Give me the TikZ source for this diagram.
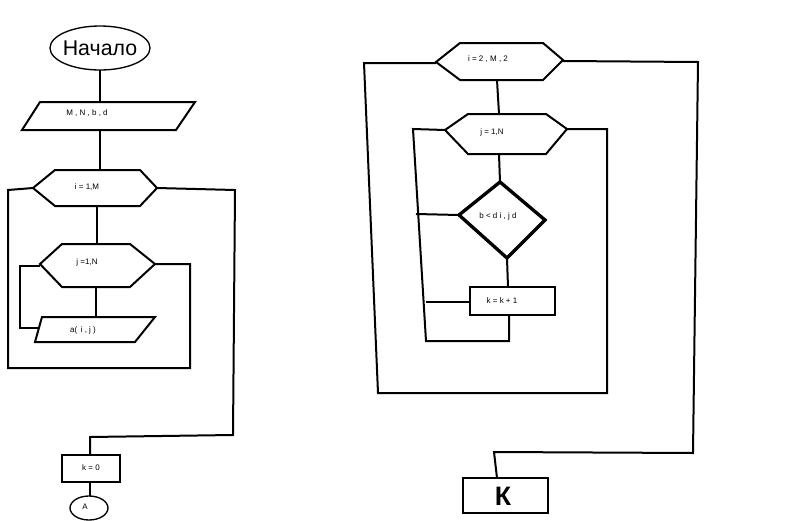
\documentclass[tikz,border=0pt]{standalone}
\usepackage{fontspec}
\setmainfont{Liberation Sans}
\begin{document}
\begin{tikzpicture}[x=0.75pt,y=-0.75pt,line width=1.5pt,line join=miter,
  lbl/.style={font=\fontsize{6}{7}\selectfont,inner sep=0pt},
  shp/.style={draw,fill=white}]
\useasboundingbox (0,0) rectangle (800,521);
% ---------- left ----------
\draw[line width=1pt] (100,48) ellipse (50 and 22);
\node[inner sep=0,font=\fontsize{16}{18}\selectfont] (start) at (100,48) {Начало};
\draw[shp] (40,102)--(195,102)--(176,130)--(22,130)--cycle;
\node[lbl] (in1) at (87,113) {M , N , b , d};
\draw (100,70)--(100,102);
\draw (100,130)--(100,170);
% hexagon i
\draw[shp] (33,188)--(55,170)--(140,170)--(157,188)--(140,206)--(55,206)--cycle;
\node[lbl] (h1) at (87,187) {i = 1,M};
\draw (33,188)--(8,190)--(8,368)--(190,368)--(190,264)--(155,264);
\draw (157,188)--(235,190)--(233,435)--(90,437)--(90,455);
\draw (97,206)--(97,244);
% hexagon j
\draw[shp] (40,264)--(62,244)--(130,244)--(155,264)--(130,287)--(62,287)--cycle;
\node[lbl] (h2) at (87,262) {j =1,N};
\draw (40,266)--(20,266)--(20,328)--(38,328);
\draw (96,287)--(96,317);
\draw[shp] (42,317)--(155,317)--(135,342)--(35,342)--cycle;
\node[lbl] (a) at (83,330) {a(\, i , j )};
\draw[shp] (62,455) rectangle (120,482);
\node[lbl] (k0) at (91,468) {k = 0};
\draw (90,482)--(90,497);
\draw[line width=1pt,fill=white] (89,508) ellipse (19 and 12);
\node[lbl] (A) at (85,507) {A};
% ---------- right ----------
\draw[shp] (436,62)--(460,43)--(543,43)--(563,60)--(543,80)--(460,80)--cycle;
\node[lbl] (h3) at (488,59) {i = 2 , M , 2};
\draw (436,63)--(364,63)--(378,393)--(607,393)--(607,129)--(567,129);
\draw (563,61)--(698,62)--(693,453)--(494,452)--(497,478);
\draw (497,80)--(499,114);
\draw[shp] (445,130)--(468,114)--(546,114)--(567,129)--(546,154)--(468,154)--cycle;
\node[lbl] (h4) at (492,132) {j = 1,N};
\draw (445,130)--(413,129)--(426,341)--(509,341)--(509,315);
\draw (459,215)--(416,214);
\draw (470,302)--(426,302);
\draw (499,154)--(500,182);
\draw[shp,line width=2.5pt] (500,182)--(545,220)--(507,258)--(459,215)--cycle;
\node[lbl] (d) at (498,216) {b < d i , j d};
\draw (507,258)--(508,287);
\draw[shp] (470,287) rectangle (555,315);
\node[lbl] (k1) at (502,301) {k = k + 1};
\draw[shp] (463,478) rectangle (548,513);
\node[inner sep=0,font=\fontsize{20}{22}\selectfont\bfseries] (end) at (503,496) {К};
\end{tikzpicture}
\end{document}
